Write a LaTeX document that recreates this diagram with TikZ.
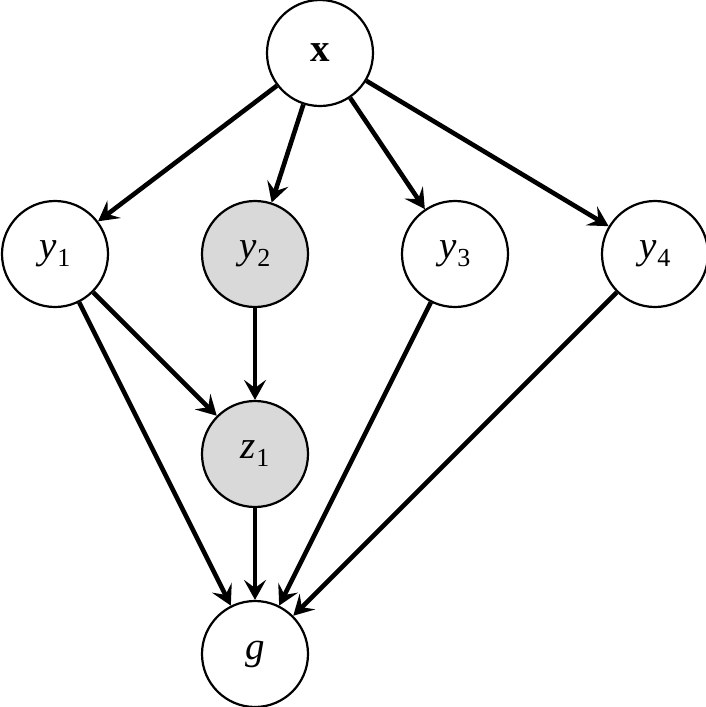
\documentclass[tikz,border=0pt]{standalone}
\usepackage{fontspec}
\setmainfont{Liberation Serif}
\usetikzlibrary{arrows.meta}
\newcommand\varsub[2]{{\itshape #1}\kern0.3pt\raisebox{-4pt}{\fontsize{13}{13}\selectfont #2}}
\begin{document}
\begin{tikzpicture}[x=0.5pt,y=-0.5pt,
  var/.style={circle,draw=black,line width=1.1pt,minimum size=53pt,inner sep=0pt,fill=white,font=\fontsize{19.5}{23}\selectfont},
  obs/.style={var,fill=gray!30},
  edge/.style={line width=2.3pt,-{Stealth[length=10pt,width=11pt,inset=4pt]}}]
\useasboundingbox[fill=white] (0,0) rectangle (706,707);
\node[var] (x) at (320,53) {\textbf{x}};
\node[var] (y1) at (55,254) {\varsub{y}{1}};
\node[obs] (y2) at (255,254) {\varsub{y}{2}};
\node[var] (y3) at (455,254) {\varsub{y}{3}};
\node[var] (y4) at (655,254) {\varsub{y}{4}};
\node[obs] (z1) at (255,454) {\varsub{z}{1}};
\node[var] (g) at (255,654) {\itshape g};
\draw[edge] (x) -- (y1);
\draw[edge] (x) -- (y2);
\draw[edge] (x) -- (y3);
\draw[edge] (x) -- (y4);
\draw[edge] (y1) -- (z1);
\draw[edge] (y2) -- (z1);
\draw[edge] (y1) -- (g);
\draw[edge] (z1) -- (g);
\draw[edge] (y3) -- (g);
\draw[edge] (y4) -- (g);
\end{tikzpicture}
\end{document}
